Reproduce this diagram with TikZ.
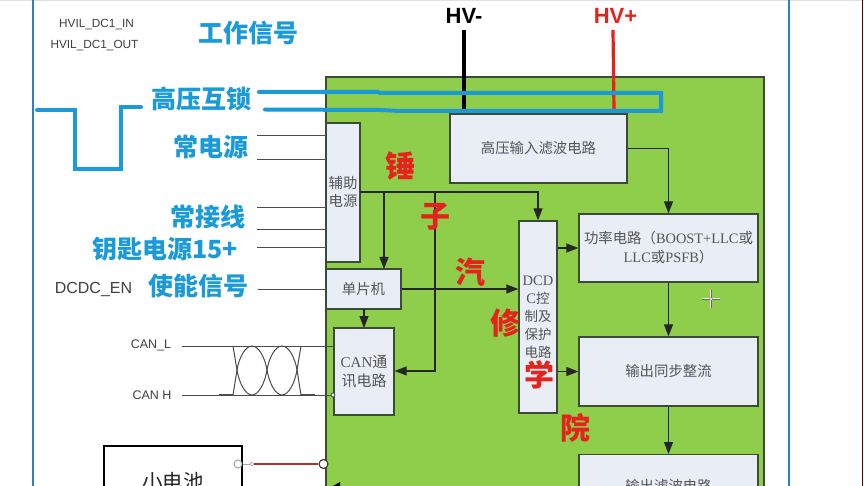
\documentclass[tikz,border=0pt]{standalone}
\usepackage{fontspec}
\setmainfont{Liberation Sans}
\newfontfamily\cjk{Noto Sans CJK SC}
\newfontfamily\lser{Liberation Serif}
\usetikzlibrary{arrows.meta}
\definecolor{bluelbl}{HTML}{1A9AD8}
\definecolor{frameb}{HTML}{2F7FC4}
\definecolor{greenb}{HTML}{8FCE4A}
\definecolor{boxf}{HTML}{E8EDF6}
\definecolor{edgeg}{HTML}{3C4A38}
\definecolor{redw}{HTML}{E3231C}
\definecolor{graytxt}{HTML}{555555}
\newcommand{\blk}[2]{\fontsize{#1}{#2}\selectfont}
\tikzset{
  x=1pt,y=-1pt,
  block/.style={draw=edgeg,line width=1.3pt,fill=boxf,inner sep=0pt,align=center,text=graytxt,font=\cjk\blk{14.4}{19}},
  lbl/.style={text=bluelbl,font=\cjk\bfseries\blk{25}{25},inner sep=0pt},
  wm/.style={text=redw,font=\cjk\bfseries\blk{30}{30},inner sep=0pt},
  small/.style={text=black!75,font=\blk{12}{12},inner sep=0pt},
  wire/.style={draw=black!70,line width=1pt},
  arrow/.style={draw=black!85,line width=1.2pt,-{Triangle[length=12pt,width=9pt]}},
  hvil/.style={draw=bluelbl,line width=4pt,line join=miter,line cap=round}
}
\begin{document}
\begin{tikzpicture}
\useasboundingbox (0,0) rectangle (864,486);
\fill[white] (0,0) rectangle (864,486);
\fill[black!12] (0,0) rectangle (864,1);
\draw[frameb,line width=1.8pt] (33,0) -- (33,486);
\draw[frameb,line width=1.8pt] (789,0) -- (789,486);
\draw[black!60!red,line width=0.8pt] (862,0) -- (862,486);

% green board
\fill[greenb,draw=edgeg,line width=1.3pt] (326,77) -- (764,77) -- (764,490) -- (326,490) -- cycle;

% blocks
\node[block,minimum width=177pt,minimum height=69pt] (hvf) at (538.5,148.5) {高压输入滤波电路};
\node[block,minimum width=34pt,minimum height=139pt,font=\cjk\blk{14.4}{18}] (aux) at (343,192.5) {辅助\\电源};
\node[block,minimum width=75pt,minimum height=40pt] (mcu) at (363.5,289) {单片机};
\node[block,minimum width=60pt,minimum height=87pt,font=\cjk\blk{15}{19}] (can) at (364,371.5) {{\lser CAN}通\\讯电路};
\node[block,minimum width=38pt,minimum height=192pt,font=\cjk\blk{13.5}{18}] (ctl) at (538,317) {{\lser\blk{14.5}{18}DCD}\\{\lser\blk{14.5}{18}C}控\\制及\\保护\\电路};
\node[block,minimum width=179pt,minimum height=68pt,font=\cjk\blk{14.4}{19}] (pwr) at (668.5,248) {功率电路（{\lser BOOST+LLC}或\\{\lser LLC}或{\lser PSFB}）};
\node[block,minimum width=179pt,minimum height=69pt] (rect) at (668.5,371.5) {输出同步整流};
\node[block,minimum width=179pt,minimum height=60pt,anchor=north,text depth=0pt] (filt) at (668.5,454) {\raisebox{-2pt}{输出滤波电路}};

% coordinates
\coordinate (hvmt) at (464,30);
\coordinate (hvpt) at (613,30);
\coordinate (hvmb) at (464,112);
\coordinate (hvpb) at (614,110);

% HV leads
\node[text=black,font=\bfseries\blk{22}{22},inner sep=0pt] (hvm) at (464,16) {HV-};
\node[text=redw,font=\bfseries\blk{22}{22},inner sep=0pt] (hvp) at (615.5,16) {HV+};
\draw[black,line width=3.2pt] (hvmt) -- (hvmb);
\draw[redw,line width=3.2pt] (hvpt) -- (hvpb);

% HVIL loop
\coordinate (la) at (259,92);
\coordinate (lb) at (265,109.5);
\coordinate (lc) at (661,93);
\coordinate (ld) at (661,111);
\draw[hvil] (la) -- (378,92) -- (380,93) -- (lc) -- (ld) -- (400,111) -- (380,110) -- (lb);
\coordinate (p1) at (37,110);
\coordinate (p2) at (75,110);
\coordinate (p3) at (75,169);
\coordinate (p4) at (121,169);
\coordinate (p5) at (121,107);
\coordinate (p6) at (141,107);
\draw[hvil] (p1) -- (p2) -- (p3) -- (p4) -- (p5) -- (p6);

% external labels
\node[small,font=\blk{11.8}{12}] (in) at (96.5,25) {HVIL\_DC1\_IN};
\node[small,font=\blk{11.8}{12}] (out) at (94.5,45.5) {HVIL\_DC1\_OUT};
\node[lbl] (work) at (248.5,33) {工作信号};
\node[lbl] (lock) at (201,99) {高压互锁};
\node[lbl] (cd) at (211,147) {常电源};
\node[lbl] (cj) at (208,217) {常接线};
\node[lbl] (key) at (165,249) {钥匙电源15+};
\node[lbl] (en) at (198,286) {使能信号};
\node[small,font=\blk{16}{16}] (dc) at (93.5,290) {DCDC\_EN};
\node[small,font=\blk{12.5}{12}] (cl) at (151,345.5) {CAN\_L};
\node[small,font=\blk{12.5}{12}] (ch) at (152,395.5) {CAN H};

% aux wires
\coordinate (a1) at (257,136);
\coordinate (a2) at (257,160);
\coordinate (a3) at (257,208);
\coordinate (a4) at (257,230);
\coordinate (a5) at (257,248);
\draw[wire] (a1) -- (a1-|aux.west);
\draw[wire] (a2) -- (a2-|aux.west);
\draw[wire] (a3) -- (a3-|aux.west);
\draw[wire] (a4) -- (a4-|aux.west);
\draw[wire] (a5) -- (a5-|aux.west);
\coordinate (e1) at (258,289);
\draw[wire] (e1) -- (mcu.west);

% CAN twisted pair
\coordinate (cl0) at (182,346);
\coordinate (ch0) at (182,395);
\draw[wire] (cl0) -- (cl0-|can.west);
\draw[wire] (ch0) -- (ch0-|can.west);
\draw[wire,line width=1.6pt] (219,395) -- (233,395);
\draw[wire,line width=1.6pt] (301,395) -- (315,395);
\draw[wire] (233,346) -- (237,370) .. controls (239,382) and (245,395) .. (252,395) .. controls (259,395) and (265,382) .. (267,370) .. controls (269,358) and (275,346) .. (282,346) .. controls (289,346) and (295,358) .. (297,370) -- (301,395);
\draw[wire] (233,395) -- (237,370) .. controls (239,358) and (245,346) .. (252,346) .. controls (259,346) and (265,358) .. (267,370) .. controls (269,382) and (275,395) .. (282,395) .. controls (289,395) and (295,382) .. (297,370) -- (301,346);
\draw[black!75,line width=0.7pt,fill=boxf] (333,395) circle (2pt);

% arrows
\coordinate (bus0) at (360,192);
\coordinate (bus1) at (384,192);
\coordinate (bus2) at (435,192);
\coordinate (bus3) at (435,371);
\coordinate (mcutop) at (384,269);
\draw[wire,draw=black!85,line width=1.2pt] (bus0) -- (bus2);
\draw[arrow] (bus2) -- (538,192) -- (ctl.north);
\draw[arrow] (bus1) -- (mcutop);
\draw[arrow] (bus2) -- (bus3) -- (can.east|-bus3);
\draw[arrow] (hvf.east) -| (pwr.north);
\draw[arrow] (mcu.east) -- (ctl.west|-mcu.east);
\draw[arrow] (364,309) -- (364,328);
\draw[arrow] (ctl.east|-pwr.west) -- (pwr.west);
\draw[arrow] (ctl.east|-rect.west) -- (rect.west);
\draw[arrow] (pwr.south) -- (rect.north);
\draw[arrow] (rect.south) -- (filt.north);

% battery
\node[draw=black,line width=1.9pt,fill=white,minimum width=138pt,minimum height=72pt,anchor=north west,inner sep=0pt,font=\cjk\blk{20.5}{22},text=black!85] (bat) at (103,445) {小电池};
\node[circle,draw=black!80,line width=1.1pt,fill=white,minimum size=9pt,inner sep=0pt] (term) at (323.5,464) {};
\node[circle,draw=black!35,line width=1pt,fill=white,minimum size=8pt,inner sep=0pt] (sw) at (238,464) {};
\node[circle,draw=black!35,line width=0.7pt,fill=white,minimum size=3.5pt,inner sep=0pt] (sw2) at (252,464) {};
\draw[black!35,line width=0.7pt] (sw) -- (sw2);
\draw[red!60!black!80,line width=1.1pt] (sw2) -- (term);
\fill[black] (333,486) -- (340,482) -- (340,486) -- cycle;

% watermark
\node[wm] (w1) at (400,166) {锤};
\node[wm] (w2) at (435,217) {子};
\node[wm] (w3) at (470,272) {汽};
\node[wm] (w4) at (505,323) {修};
\node[wm] (w5) at (539,375) {学};
\node[wm] (w6) at (575,428) {院};

% cursor
\coordinate (cc) at (711,299);
\draw[white,line width=1.4pt] (702,299) -- (720,299) (711,290) -- (711,308);
\draw[black!60,line width=0.4pt] (702,299) -- (720,299) (711,290) -- (711,308);
\draw[black!60,line width=0.4pt,fill=white] (cc) circle (1.6pt);
\end{tikzpicture}
\end{document}
